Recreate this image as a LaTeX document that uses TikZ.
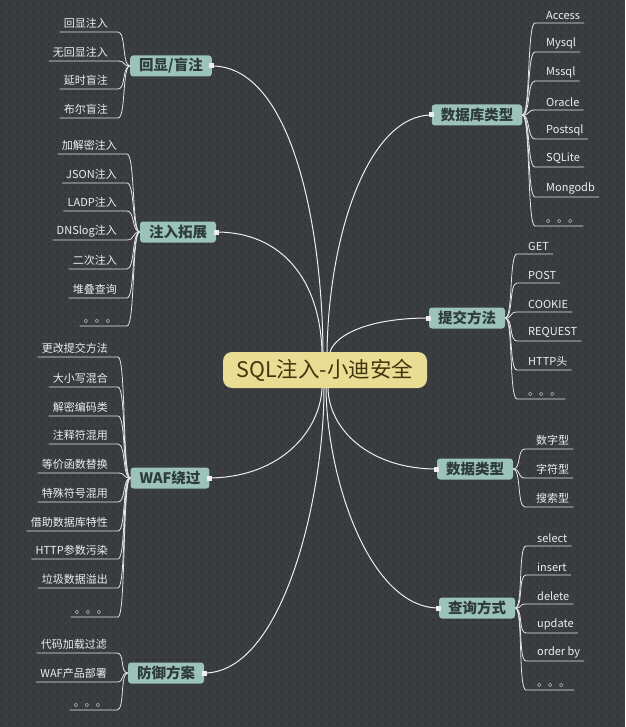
\documentclass[tikz,border=0pt]{standalone}
\usepackage{fontspec}
\setmainfont{Noto Sans CJK SC}
\usetikzlibrary{calc}

\definecolor{bgcol}{HTML}{393D40}
\definecolor{dotcol}{HTML}{303437}
\definecolor{rootcol}{HTML}{E8DD92}
\definecolor{roottext}{HTML}{43350E}
\definecolor{subcol}{HTML}{9CC3BA}
\definecolor{subtext}{HTML}{2E3B38}
\definecolor{linecol}{HTML}{EEEEEE}

\tikzset{
  root/.style={fill=rootcol, text=roottext, rounded corners=9pt, font=\fontsize{21.5}{25}\selectfont, minimum height=36pt, minimum width=204pt, inner ysep=0pt},
  topic/.style={fill=subcol, text=subtext, rounded corners=3pt, font=\bfseries\fontsize{14.5}{17}\selectfont, minimum height=21pt, inner xsep=9pt, inner ysep=0pt},
  port/.style={fill=linecol, inner sep=0pt, minimum size=5pt},
  leaf/.style={text=linecol, font=\fontsize{11}{13}\selectfont, inner xsep=4pt, inner ysep=3pt},
  lleaf/.style={leaf, anchor=south east},
  rleaf/.style={leaf, anchor=south west},
  branch/.style={draw=linecol, line width=1pt},
  twig/.style={draw=linecol!90!gray, line width=0.8pt},
  dotrow/.style={draw=dotcol, line width=1.5pt, dash pattern=on 1.5pt off 6.5pt},
}

\begin{document}
\begin{tikzpicture}[x=1pt, y=-1pt]
        % Background with dot grid
        \fill[bgcol] (0,0) rectangle (625,727);
        \useasboundingbox (0,0) rectangle (625,727);
        \foreach \r in {4,12,...,724} \draw[dotrow] (0,\r) -- (625,\r);

        % Draw the root and the topics
        \node[root] (root) at (325,370) {SQL注入-小迪安全};
        \node[topic] (hx) at (171,66) {回显/盲注};
        \node[topic] (tz) at (178,232) {注入拓展};
        \node[topic] (waf) at (170,478) {WAF绕过};
        \node[topic] (fy) at (166,673) {防御方案};
        \node[topic] (db) at (477,115) {数据库类型};
        \node[topic] (tj) at (467,318) {提交方法};
        \node[topic] (sj) at (475,469) {数据类型};
        \node[topic] (cx) at (477,608) {查询方式};

        % Draw ports
        \node[port] (hxp) at (hx.east) {};
        \node[port] (tzp) at (tz.east) {};
        \node[port] (wafp) at (waf.east) {};
        \node[port] (fyp) at (fy.east) {};
        \node[port] (dbp) at (db.west) {};
        \node[port] (tjp) at (tj.west) {};
        \node[port] (sjp) at (sj.west) {};
        \node[port] (cxp) at (cx.west) {};

        % Draw main branches
        \draw[branch] (hxp.center) .. controls (290,66) and (322,220) .. ([xshift=-2pt]root.north);
        \draw[branch] (tzp.center) .. controls (282,232) and (320,280) .. ([xshift=-3pt]root.north);
        \draw[branch] (dbp.center) .. controls (370,115) and (329,230) .. ([xshift=2pt]root.north);
        \draw[branch] (tjp.center) .. controls (370,318) and (336,334) .. ([xshift=5pt]root.north);
        \draw[branch] (wafp.center) .. controls (282,477) and (320,430) .. ([xshift=-3pt]root.south);
        \draw[branch] (fyp.center) .. controls (282,673) and (324,500) .. ([xshift=-1pt]root.south);
        \draw[branch] (sjp.center) .. controls (370,469) and (329,430) .. ([xshift=3pt]root.south);
        \draw[branch] (cxp.center) .. controls (370,608) and (327,480) .. ([xshift=1pt]root.south);

        % Draw leaves on the left
        \foreach \t/\y [count=\i] in {回显注入/32, 无回显注入/61, 延时盲注/89, 布尔盲注/118}{
          \node[lleaf] (hx\i) at (112,\y) {\t};
          \draw[twig] (hx\i.south west) -- ([xshift=6pt]hx\i.south east) to[out=0,in=180,distance=8pt] (hx.west);
        }
        \foreach \t/\y [count=\i] in {加解密注入/154, JSON注入/183, LADP注入/211, DNSlog注入/240, 二次注入/269, 堆叠查询/298, 。。。/326}{
          \node[lleaf] (tz\i) at (121,\y) {\t};
          \draw[twig] (tz\i.south west) -- ([xshift=6pt]tz\i.south east) to[out=0,in=180,distance=8pt] (tz.west);
        }
        \foreach \t/\y [count=\i] in {更改提交方法/357, 大小写混合/387, 解密编码类/416, 注释符混用/444, 等价函数替换/473, 特殊符号混用/502, 借助数据库特性/531, HTTP参数污染/559, 垃圾数据溢出/588, 。。。/617}{
          \node[lleaf] (waf\i) at (112,\y) {\t};
          \draw[twig] (waf\i.south west) -- ([xshift=6pt]waf\i.south east) to[out=0,in=180,distance=8pt] (waf.west);
        }
        \foreach \t/\y [count=\i] in {代码加载过滤/653, WAF产品部署/682, 。。。/710}{
          \node[lleaf] (fy\i) at (111,\y) {\t};
          \draw[twig] (fy\i.south west) -- ([xshift=6pt]fy\i.south east) to[out=0,in=180,distance=8pt] (fy.west);
        }

        % Draw leaves on the right
        \foreach \t/\y [count=\i] in {Access/23, Mysql/52, Mssql/81, Oracle/110, Postsql/139, SQLite/167, Mongodb/197, 。。。/226}{
          \node[rleaf] (db\i) at (542,\y) {\t};
          \draw[twig] (db.east) to[out=0,in=180,distance=8pt] ([xshift=-7pt]db\i.south west) -- (db\i.south east);
        }
        \foreach \t/\y [count=\i] in {GET/254, POST/283, COOKIE/312, REQUEST/341, HTTP头/370, 。。。/399}{
          \node[rleaf] (tj\i) at (524,\y) {\t};
          \draw[twig] (tj.east) to[out=0,in=180,distance=8pt] ([xshift=-7pt]tj\i.south west) -- (tj\i.south east);
        }
        \foreach \t/\y [count=\i] in {数字型/449, 字符型/478, 搜索型/507}{
          \node[rleaf] (sj\i) at (532,\y) {\t};
          \draw[twig] (sj.east) to[out=0,in=180,distance=8pt] ([xshift=-7pt]sj\i.south west) -- (sj\i.south east);
        }
        \foreach \t/\y [count=\i] in {select/546, insert/575, delete/604, update/633, order by/661, 。。。/690}{
          \node[rleaf] (cx\i) at (533,\y) {\t};
          \draw[twig] (cx.east) to[out=0,in=180,distance=8pt] ([xshift=-7pt]cx\i.south west) -- (cx\i.south east);
        }
    \end{tikzpicture}
\end{document}
